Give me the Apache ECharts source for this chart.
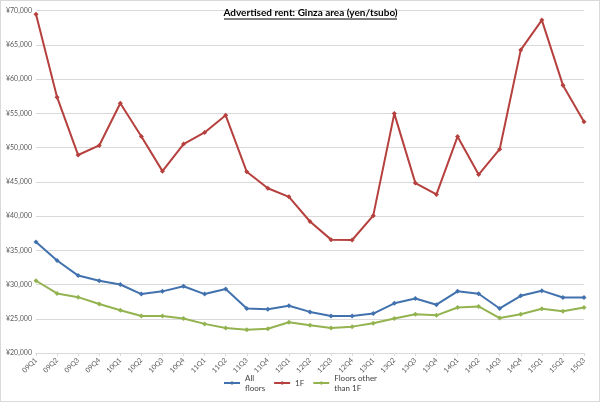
<!DOCTYPE html>
<html><head><meta charset="utf-8">
<script src="https://cdn.jsdelivr.net/npm/echarts@6/dist/echarts.min.js"></script>
<style>html,body{margin:0;padding:0;background:#fff}#c{width:600px;height:402px;box-sizing:border-box;border:1px solid #d9d9d9;}</style>
</head><body><div id="c"></div>
<script>
const categories = ['09Q1','09Q2','09Q3','09Q4','10Q1','10Q2','10Q3','10Q4','11Q1','11Q2','11Q3','11Q4','12Q1','12Q2','12Q3','12Q4','13Q1','13Q2','13Q3','13Q4','14Q1','14Q2','14Q3','14Q4','15Q1','15Q2','15Q3'];
const allFloors = [36200,33500,31300,30550,30000,28600,29000,29750,28600,29350,26500,26400,26900,26000,25400,25400,25750,27250,27950,27050,29000,28650,26500,28350,29100,28100,28100];
const firstFloor = [69450,57350,48900,50300,56450,51600,46550,50500,52200,54700,46450,44050,42800,39200,36550,36500,40050,54950,44800,43150,51600,46050,49750,64250,68600,59100,53750];
const otherFloors = [30550,28700,28150,27150,26250,25400,25400,25050,24250,23650,23400,23550,24500,24050,23650,23850,24350,25050,25650,25500,26650,26800,25100,25650,26450,26100,26650];
const seriesNames = ['All\nfloors','1F','Floors other\nthan 1F'];
const colors = ['#4272AE','#B5403D','#93B351'];

const chart = echarts.init(document.getElementById('c'));
const mk = (name, data, color) => ({
  name, type:'line', data, color,
  symbol:'diamond', symbolSize:5,
  lineStyle:{width:2, color},
  itemStyle:{color},
  emphasis:{disabled:true}
});
chart.setOption({
  animation:false,
  title:{text:'Advertised rent: Ginza area (yen/tsubo)', left:309.5, top:7, padding:0, textAlign:'center',
    textStyle:{fontFamily:'Lato', fontWeight:'bold', fontSize:10, color:'#000'}},
  graphic:[{type:'line', shape:{x1:223,y1:18,x2:396,y2:18}, style:{stroke:'#000', lineWidth:1}}],
  grid:{left:35, right:15, top:9.5, bottom:48},
  legend:{bottom:3, left:'center', itemWidth:16, itemHeight:5, itemGap:8,
    textStyle:{fontFamily:'Lato', fontSize:8, color:'#404040', lineHeight:10},
    data:seriesNames},
  xAxis:{type:'category', data:categories, boundaryGap:false,
    axisLine:{lineStyle:{color:'#d9d9d9'}},
    axisTick:{show:true, lineStyle:{color:'#d9d9d9'}, length:3},
    axisLabel:{rotate:45, fontSize:7, color:'#595959', fontFamily:'Lato', margin:6, interval:0}},
  yAxis:{type:'value', min:20000, max:70000, interval:5000,
    axisLine:{show:false}, axisTick:{show:false},
    splitLine:{lineStyle:{color:'#d9d9d9'}},
    axisLabel:{fontSize:7, color:'#595959', fontFamily:'Lato', align:'left', margin:30,
      formatter:v=>'¥'+v.toLocaleString('en-US')}},
  series:[mk(seriesNames[0], allFloors, colors[0]), mk(seriesNames[1], firstFloor, colors[1]), mk(seriesNames[2], otherFloors, colors[2])]
});
</script></body></html>
